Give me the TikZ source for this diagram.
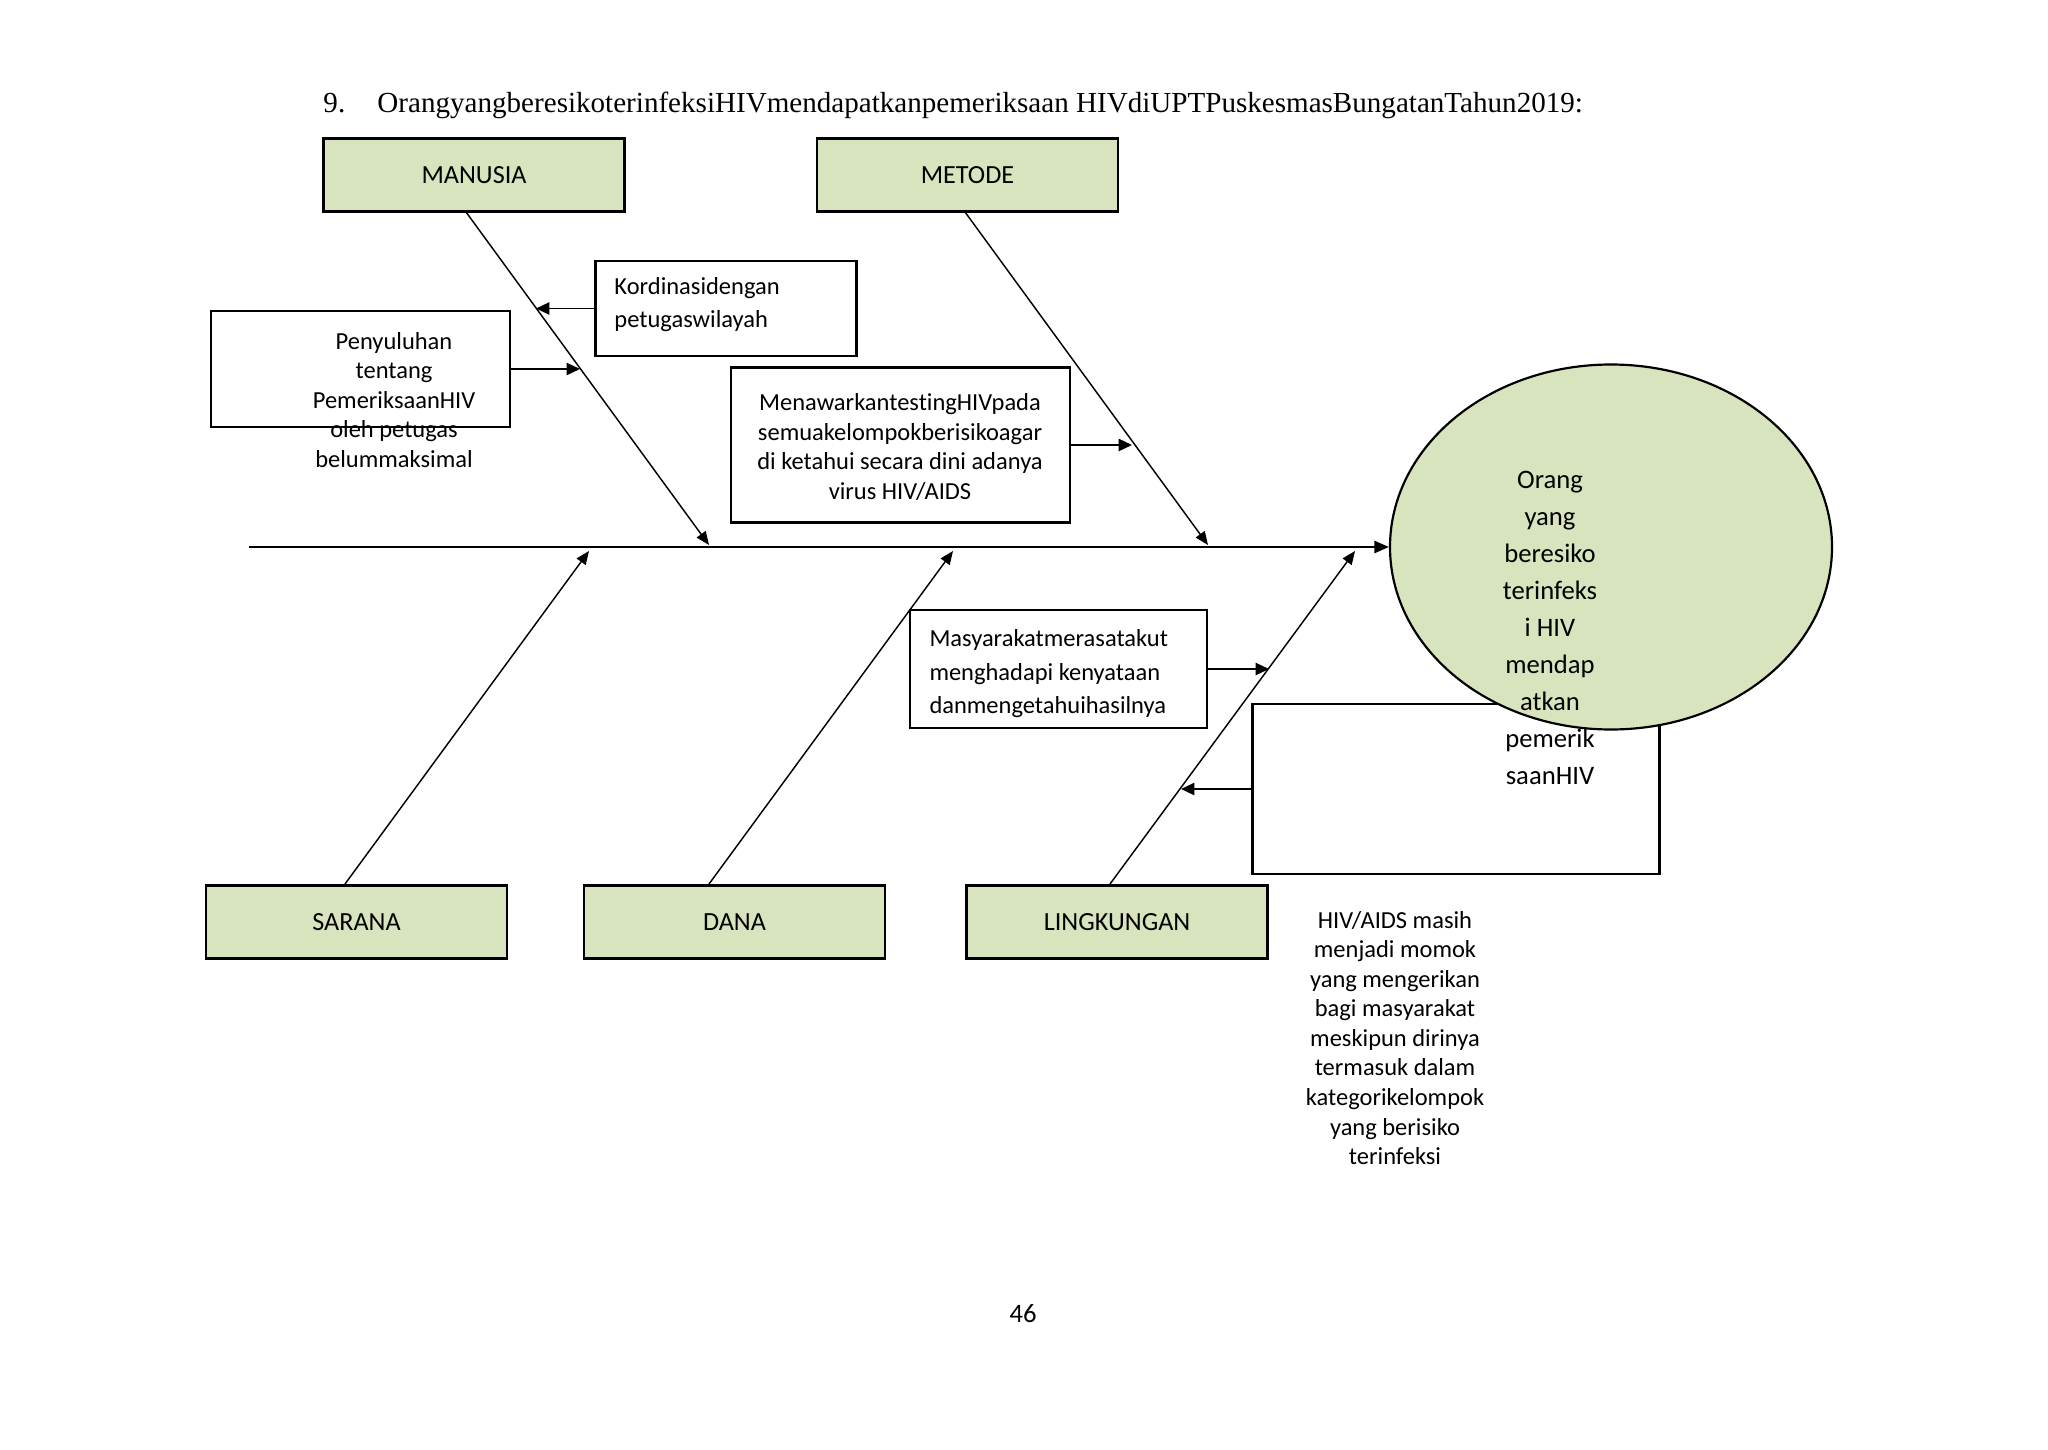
\documentclass[tikz,border=0pt]{standalone}
\usepackage{fontspec}
\setmainfont{Liberation Serif}
\newfontfamily\calfont[Ligatures={NoCommon}]{Carlito}
\usetikzlibrary{arrows.meta,shapes.geometric}
\definecolor{boxgreen}{HTML}{D7E4BD}
\newdimen\pxu
\pxu=0.14502mm
\begin{document}
\begin{tikzpicture}[x=0.14502mm,y=-0.14502mm,
  catbox/.style={draw=black, line width=1pt, fill=boxgreen, inner sep=0pt,
    minimum width=301\pxu, minimum height=73\pxu,
    font=\calfont\fontsize{10.8}{13}\selectfont},
  whitebox/.style={draw=black, line width=1pt, fill=white, inner sep=0pt},
  desc/.style={inner sep=0pt, font=\calfont\fontsize{10.1}{12.2}\selectfont},
  bone/.style={line width=0.6pt, -{Triangle[length=5.5pt,width=4.5pt]}},
  subarrow/.style={line width=0.8pt, -{Triangle[length=5.5pt,width=5pt]}}]
\useasboundingbox (0,0) rectangle (2048,1449);

% title
\node[anchor=base west, inner sep=0pt, font=\fontsize{12}{14}\selectfont] (num) at (323,113) {9.};
\node[anchor=base west, inner sep=0pt, font=\fontsize{12}{14}\selectfont] (title) at (377,113) {OrangyangberesikoterinfeksiHIVmendapatkanpemeriksaan HIVdiUPTPuskesmasBungatanTahun2019:};

% category boxes
\node[catbox] (manusia) at (474,175) {MANUSIA};
\node[catbox] (metode) at (967.5,175) {METODE};
\node[catbox] (sarana) at (356.5,922) {SARANA};
\node[catbox] (dana) at (734.5,922) {DANA};
\node[catbox] (lingk) at (1117,922) {LINGKUNGAN};

% big empty box behind ellipse
\node[whitebox, minimum width=407\pxu, minimum height=170\pxu] (bigbox) at (1456,789) {};

% effect ellipse
\node[ellipse, draw=black, line width=0.9pt, fill=boxgreen, inner sep=0pt,
  minimum width=442\pxu, minimum height=365\pxu] (effect) at (1611,547) {};

% description boxes
\node[whitebox, minimum width=261\pxu, minimum height=95\pxu] (kord) at (726,308.5) {};
\node[whitebox, minimum width=299\pxu, minimum height=116\pxu] (peny) at (360.5,369) {};
\node[whitebox, minimum width=339\pxu, minimum height=155\pxu] (mena) at (900.5,445) {};
\node[whitebox, minimum width=297\pxu, minimum height=118\pxu] (masy) at (1058.5,669) {};

% texts
\node[desc, anchor=west, align=left, font=\calfont\fontsize{10.1}{13.6}\selectfont] (kordt) at (614,305) {Kordinasidengan\\petugaswilayah};
\node[desc, align=center] (penyt) at (394,400) {Penyuluhan\\tentang\\PemeriksaanHIV\\oleh petugas\\belummaksimal};
\node[desc, align=center] (menat) at (900,447) {MenawarkantestingHIVpada\\semuakelompokberisikoagar\\di ketahui secara dini adanya\\virus HIV/AIDS};
\node[desc, anchor=west, align=left, font=\calfont\fontsize{10.1}{13.8}\selectfont] (masyt) at (929,674) {Masyarakatmerasatakut\\menghadapi kenyataan\\danmengetahuihasilnya};
\node[desc, align=center, font=\calfont\fontsize{11}{15.3}\selectfont] (efft) at (1550,628) {Orang\\yang\\beresiko\\terinfeks\\i HIV\\mendap\\atkan\\pemerik\\saanHIV};
\node[desc, align=center] (lingt) at (1395,1038) {HIV/AIDS masih\\menjadi momok\\yang mengerikan\\bagi masyarakat\\meskipun dirinya\\termasuk dalam\\kategorikelompok\\yang berisiko\\terinfeksi};
\node[desc, font=\calfont\fontsize{11}{13}\selectfont] (page) at (1023,1314) {46};

% coordinates
\coordinate (spineL) at (249,547);
\coordinate (mS) at (466,212);
\coordinate (mT) at (709,545);
\coordinate (tS) at (965,212);
\coordinate (tT) at (1208,545);
\coordinate (sS) at (345,884);
\coordinate (sT) at (589,551);
\coordinate (dS) at (709,884);
\coordinate (dT) at (953,551);
\coordinate (lS) at (1110,884);
\coordinate (lT) at (1355,551);
\coordinate (kordT) at (536,308.5);
\coordinate (penyT) at (580,369);
\coordinate (menaT) at (1132,445);
\coordinate (masyT) at (1269,669);
\coordinate (bigT) at (1181,789);

% spine
\draw[line width=0.9pt, -{Triangle[length=6pt,width=5pt]}] (spineL) -- (effect.west);

% bones
\draw[bone] (mS) -- (mT);
\draw[bone] (tS) -- (tT);
\draw[bone] (sS) -- (sT);
\draw[bone] (dS) -- (dT);
\draw[bone] (lS) -- (lT);

% sub arrows
\draw[subarrow] (kord.west) -- (kordT);
\draw[subarrow] (peny.east) -- (penyT);
\draw[subarrow] (mena.east) -- (menaT);
\draw[subarrow] (masy.east) -- (masyT);
\draw[subarrow] (bigbox.west) -- (bigT);
\end{tikzpicture}
\end{document}
